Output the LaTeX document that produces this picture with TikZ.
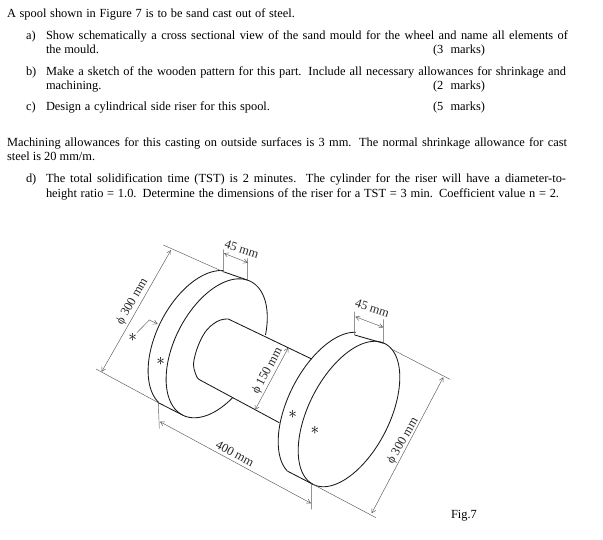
\documentclass[tikz,border=0pt]{standalone}
\usepackage{fontspec}
\setmainfont{Liberation Serif}
\usetikzlibrary{arrows.meta}
\tikzset{
  txt/.style={anchor=base west,inner sep=0pt,outer sep=0pt,font=\fontsize{12.4}{14}\selectfont},
  dimt/.style={inner sep=0pt,font=\fontsize{12.5}{14}\selectfont,text=black!85},
  star/.style={inner sep=0pt,font=\fontsize{18}{18}\selectfont},
  body/.style={line width=0.85pt,black!90,line join=round},
  thin line/.style={line width=0.45pt,black!65},
  dimline/.style={thin line,{Straight Barb[length=4pt,width=4.5pt]}-{Straight Barb[length=4pt,width=4.5pt]}},
}
\newcommand{\jl}[2]{\makebox[#1][s]{#2}}
\begin{document}
\begin{tikzpicture}[x=1pt,y=-1pt]
\useasboundingbox (0,0) rectangle (603,539);
% ---------- text
\node[txt] (l1) at (7,17) {\jl{288pt}{A spool shown in Figure 7 is to be sand cast out of steel.}};
\node[txt] (al) at (26,39) {a)};
\node[txt] (a1) at (46,39) {\jl{522pt}{Show schematically a cross sectional view of the sand mould for the wheel and name all elements of}};
\node[txt] (a2) at (46,53) {the mould.};
\node[txt] (am) at (433,53) {\jl{52pt}{(3 marks)}};
\node[txt] (bl) at (26,75) {b)};
\node[txt] (b1) at (46,75) {\jl{520pt}{Make a sketch of the wooden pattern for this part. Include all necessary allowances for shrinkage and}};
\node[txt] (b2) at (46,89) {machining.};
\node[txt] (bm) at (433,89) {\jl{52pt}{(2 marks)}};
\node[txt] (cl) at (26,110) {c)};
\node[txt] (c1) at (46,110) {\jl{224pt}{Design a cylindrical side riser for this spool.}};
\node[txt] (cm) at (433,110) {\jl{52pt}{(5 marks)}};
\node[txt] (m1) at (7,146) {\jl{560pt}{Machining allowances for this casting on outside surfaces is 3 mm. The normal shrinkage allowance for cast}};
\node[txt] (m2) at (7,160.5) {steel is 20 mm/m.};
\node[txt] (dl) at (26,182) {d)};
\node[txt] (d1) at (46,182) {\jl{520pt}{The total solidification time (TST) is 2 minutes. The cylinder for the riser will have a diameter-to-}};
\node[txt] (d2) at (46,197) {\jl{513pt}{height ratio = 1.0. Determine the dimensions of the riser for a TST = 3 min. Coefficient value n = 2.}};
\node[txt] (fig) at (451,518) {Fig.7};
% ---------- coordinates
\coordinate (sU) at (228.3,319);
\coordinate (sUr) at (311.7,359);
\coordinate (sL) at (200,380);
\coordinate (sLr) at (279.3,422.7);
\coordinate (topL) at (223.3,271.7);
\coordinate (topLf) at (247.3,280);
\coordinate (botL) at (158.3,402.7);
\coordinate (botLf) at (182.7,415.1);
\coordinate (topR) at (354.7,335);
\coordinate (topRf) at (383.7,343.3);
\coordinate (botR) at (287.6,471.2);
\coordinate (botRf) at (313.1,484.4);
% ---------- left disc
\draw[body] plot[smooth,domain=119:423,samples=90,variable=\tt]
  ({216.7+75*cos(\tt)*0.454+42*sin(\tt)*0.891},{348.3-75*cos(\tt)*0.891+42*sin(\tt)*0.454});
\draw[body] plot[smooth,domain=190:347,samples=60,variable=\tt]
  ({198.7+75*cos(\tt)*0.454+42*sin(\tt)*0.891},{340-75*cos(\tt)*0.891+42*sin(\tt)*0.454});
\draw[body] (topL) -- (topLf);
\draw[body] (botL) -- (botLf);
% shaft end
\draw[body] plot[smooth,tension=0.7] coordinates {(sU) (216.7,321.7) (203.3,335) (194,360) (196,375) (sL)};
\draw[body] (sU) -- (sUr);
\draw[body] (sL) -- (sLr);
% ---------- right disc
\draw[body] plot[smooth,domain=0:360,samples=100,variable=\tt]
  ({349+79*cos(\tt)*0.454+40.4*sin(\tt)*0.891},{414-79*cos(\tt)*0.891+40.4*sin(\tt)*0.454});
\draw[body] plot[smooth,domain=190:347,samples=60,variable=\tt]
  ({329+79*cos(\tt)*0.454+40.4*sin(\tt)*0.891},{405-79*cos(\tt)*0.891+40.4*sin(\tt)*0.454});
\draw[body] (topR) -- (topRf);
\draw[body] (botR) -- (botRf);
% ---------- dimension coordinates
\coordinate (LtA) at (171,250);
\coordinate (LtB) at (101.7,371.7);
\coordinate (e1a) at (163.3,245);
\coordinate (e2a) at (96,369);
\coordinate (k1b) at (159.3,428.3);
\coordinate (fA) at (160,421.7);
\coordinate (fB) at (311,503.3);
\coordinate (k2a) at (311.7,483.3);
\coordinate (k2b) at (311.7,509.3);
\coordinate (t1a) at (223.3,249.3);
\coordinate (t2a) at (247.3,258.3);
\coordinate (dA) at (224,253.3);
\coordinate (dB) at (247.7,262.7);
\coordinate (r1a) at (354.7,311.7);
\coordinate (r2a) at (383.7,319.3);
\coordinate (rA) at (355.3,316.7);
\coordinate (rB) at (383.3,327.3);
\coordinate (RtA) at (443.3,377.3);
\coordinate (RtB) at (371.7,513.3);
\coordinate (x1a) at (390,348.3);
\coordinate (x1b) at (450,379.3);
\coordinate (x2b) at (376,517.7);
\coordinate (mA) at (288.3,347.7);
\coordinate (mB) at (255,410);
\coordinate (q1) at (149.3,320);
\coordinate (q2) at (157.7,324);
% ---------- dimensions
\draw[thin line] (e1a) -- (topL) (e2a) -- (botL) (botL) -- (k1b) (k2a) -- (k2b)
  (t1a) -- (topL) (t2a) -- (topLf) (r1a) -- (topR) (r2a) -- (topRf) (x1a) -- (x1b) (botRf) -- (x2b);
\draw[dimline] (LtA) -- (LtB);
\draw[dimline] (fA) -- (fB);
\draw[dimline] (dA) -- (dB);
\draw[dimline] (rA) -- (rB);
\draw[dimline] (RtA) -- (RtB);
\draw[dimline] (mA) -- (mB);
% ---------- labels
\node[dimt,rotate=-18] (n1) at (241.7,249) {45 mm};
\node[dimt,rotate=-18] (n2) at (372.3,308.3) {45 mm};
\node[dimt,rotate=60] (n3) at (132.5,301.7) {ϕ 300 mm};
\node[dimt,rotate=60] (n4) at (403,441) {ϕ 300 mm};
\node[dimt,rotate=62] (n5) at (267.5,371) {ϕ 150 mm};
\node[dimt,rotate=-28] (n6) at (235,453.3) {400 mm};
\node[star] (s1) at (132.7,337) {$\ast$};
\node[star] (s2) at (160.7,361) {$\ast$};
\node[star] (s3) at (292.7,414.3) {$\ast$};
\node[star] (s4) at (315,430.3) {$\ast$};
\draw[thin line,-{Straight Barb[length=4pt,width=4.5pt]}] (s1) -- (q1) -- (q2);
\end{tikzpicture}
\end{document}
